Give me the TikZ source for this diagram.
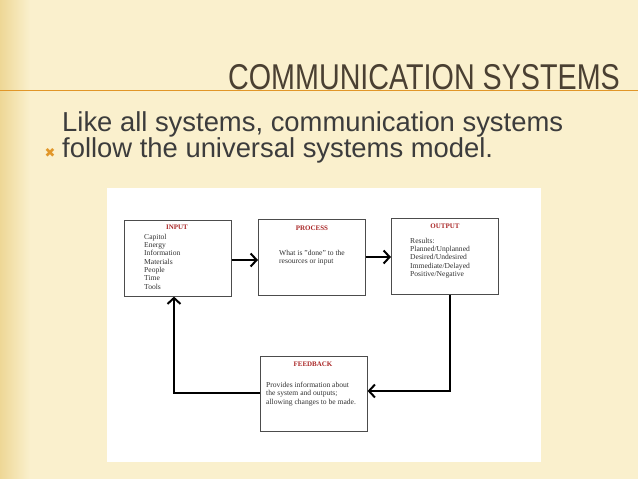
\documentclass[tikz,border=0pt]{standalone}
\usepackage{fontspec}
\setmainfont{Liberation Serif}
\newfontfamily\arialf{Liberation Sans}
\newfontfamily\djv{DejaVu Sans}
\usetikzlibrary{arrows.meta}
\definecolor{bg}{RGB}{250,240,205}
\definecolor{band}{RGB}{238,215,150}
\definecolor{ttl}{RGB}{74,64,50}
\definecolor{txt}{RGB}{60,60,60}
\definecolor{boxred}{RGB}{170,40,40}
\definecolor{gold}{RGB}{225,150,40}
\tikzset{x=1bp,y=-1bp,
 box/.style={draw=black!70,line width=0.6bp,fill=white,minimum width=107bp,minimum height=76bp,anchor=north west},
 btitle/.style={font=\fontsize{7}{8}\selectfont\bfseries,text=boxred},
 btext/.style={font=\fontsize{7.6}{8.3}\selectfont,text=black!80,align=left,anchor=north west,inner sep=0},
 flow/.style={line width=2.6bp,-{Straight Barb[length=6bp,width=13bp,line width=2bp]}}}
\begin{document}
\begin{tikzpicture}
\useasboundingbox (0,0) rectangle (638,479);
\fill[bg] (0,0) rectangle (638,479);
\shade[left color=band,right color=bg] (0,0) rectangle (30,479);
\draw[gold,line width=1bp] (0,91) -- (638,91);
\node[anchor=south east,inner sep=0,text=ttl] (title) at (620,90) {\scalebox{0.8}[1]{\arialf\fontsize{36}{38}\selectfont COMMUNICATION SYSTEMS}};
\node[text=gold,anchor=base,inner sep=0] (bul) at (50,158) {\djv\fontsize{13}{13}\selectfont ✖};
\node[anchor=base west,inner sep=0,align=left,text=txt,font=\arialf\fontsize{27.5}{24}\selectfont] (body) at (62,158) {Like all systems, communication systems\\follow the universal systems model.};
\fill[white] (107,188) rectangle (541,462);
\node[box] (in) at (124,220) {};
\node[box] (pr) at (258,219) {};
\node[box] (out) at (391,218) {};
\node[box,minimum height=75bp] (fb) at (260,356) {};
\node[btitle] (int) at (177,227) {INPUT};
\node[btext] (inx) at (144,234) {Capitol\\Energy\\Information\\Materials\\People\\Time\\Tools};
\node[btitle] (prt) at (312,228) {PROCESS};
\node[btext] (prx) at (279,250) {What is "done" to the\\resources or input};
\node[btitle] (outt) at (445,226) {OUTPUT};
\node[btext] (outx) at (410,238) {Results:\\Planned/Unplanned\\Desired/Undesired\\Immediate/Delayed\\Positive/Negative};
\node[btitle] (fbt) at (313,364) {FEEDBACK};
\node[btext] (fbx) at (266,382) {Provides information about\\the system and outputs;\\allowing changes to be made.};
\draw[flow] (in.east |- 0,260) -- (pr.west |- 0,260);
\draw[flow] (pr.east |- 0,257) -- (out.west |- 0,257);
\draw[flow] (out.south -| 450,0) -- (450,391) -- (fb.east |- 0,391);
\draw[flow] (fb.west |- 0,393) -- (174,393) -- (in.south -| 174,0);
\end{tikzpicture}
\end{document}
